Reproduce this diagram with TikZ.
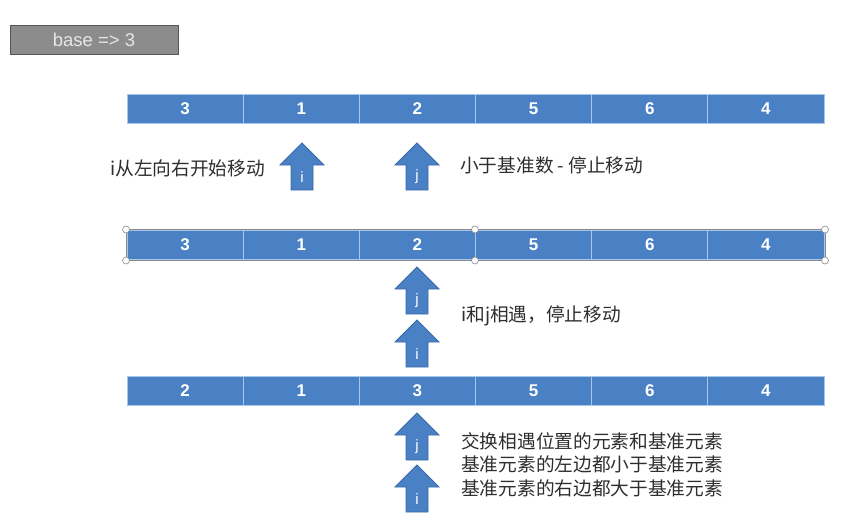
\documentclass[tikz,border=0pt]{standalone}
\usepackage{fontspec}
\setmainfont{Liberation Sans}
\newfontfamily\cjk{Noto Sans CJK SC}
\definecolor{cellblue}{HTML}{4A80C4}
\definecolor{celledge}{HTML}{A8C6EC}
\definecolor{arrowedge}{HTML}{3A6BA8}
\definecolor{txt}{HTML}{2E2E2E}
\definecolor{basefill}{HTML}{8C8C8C}
\definecolor{baseedge}{HTML}{555555}
\definecolor{basetext}{HTML}{E6E6E6}
\definecolor{handle}{HTML}{8A8A8A}
\newcommand\UpArr[4]{% name, cx, tip y, label
  \path[arrowbody] (#2-22,#3+22) -- (#2,#3) -- (#2+22,#3+22) -- (#2+11,#3+22)
     -- (#2+11,#3+47) -- (#2-11,#3+47) -- (#2-11,#3+22) -- cycle;
  \node[arrowlabel] (#1) at (#2,#3+34) {#4};
}
\begin{document}
\begin{tikzpicture}[x=1pt,y=-1pt,
  cell/.style={draw=celledge, line width=1pt, fill=cellblue, minimum width=116.17pt,
     minimum height=29pt, inner sep=0pt, text=white, font=\fontsize{17}{17}\selectfont\bfseries},
  arrowbody/.style={fill=cellblue, draw=arrowedge, line width=0.8pt, line join=miter},
  arrowlabel/.style={text=white, font=\fontsize{15}{15}\selectfont, inner sep=0pt},
  note/.style={text=txt, font=\cjk\fontsize{18.7}{23.5}\selectfont, inner sep=0pt, anchor=west, align=left},
  hnd/.style={circle, draw=handle, fill=white, line width=0.6pt, minimum size=7pt, inner sep=0pt}
]
\useasboundingbox (0,0) rectangle (854,514);

% base box
\node[draw=baseedge, fill=basefill, line width=0.8pt, minimum width=168pt, minimum height=29pt,
  inner sep=0pt, text=basetext, font=\fontsize{18.5}{18.5}\selectfont] (base) at (94,39.5) {base => 3};

% row 1
\foreach \v [count=\k] in {3,1,2,5,6,4}
  \node[cell] (a\k) at (127+116.17*\k-58.08,108.5) {\v};
% row 2
\draw[handle, line width=0.8pt] (126,229.5) rectangle (825,260.5);
\foreach \v [count=\k] in {3,1,2,5,6,4}
  \node[cell] (b\k) at (127+116.17*\k-58.08,245) {\v};
\foreach \hx in {126,475,825}{
  \node[hnd] at (\hx,229.5) {};
  \node[hnd] at (\hx,260.5) {};
}
% row 3
\foreach \v [count=\k] in {2,1,3,5,6,4}
  \node[cell] (c\k) at (127+116.17*\k-58.08,390.5) {\v};

% arrows
\UpArr{i1}{302}{143}{i}
\UpArr{j1}{417}{143}{j}
\UpArr{j2}{417}{267}{j}
\UpArr{i2}{417}{320}{i}
\UpArr{j3}{417}{413}{j}
\UpArr{i3}{417}{465}{i}

% notes
\node[note] (n1) at (110,168) {i从左向右开始移动};
\node[note] (n2) at (460,165) {小于基准数 - 停止移动};
\node[note] (n3) at (461,316) {i和j相遇，停止移动};
\node[note] (n4) at (461,464.5) {交换相遇位置的元素和基准元素\\基准元素的左边都小于基准元素\\基准元素的右边都大于基准元素};
\end{tikzpicture}
\end{document}
